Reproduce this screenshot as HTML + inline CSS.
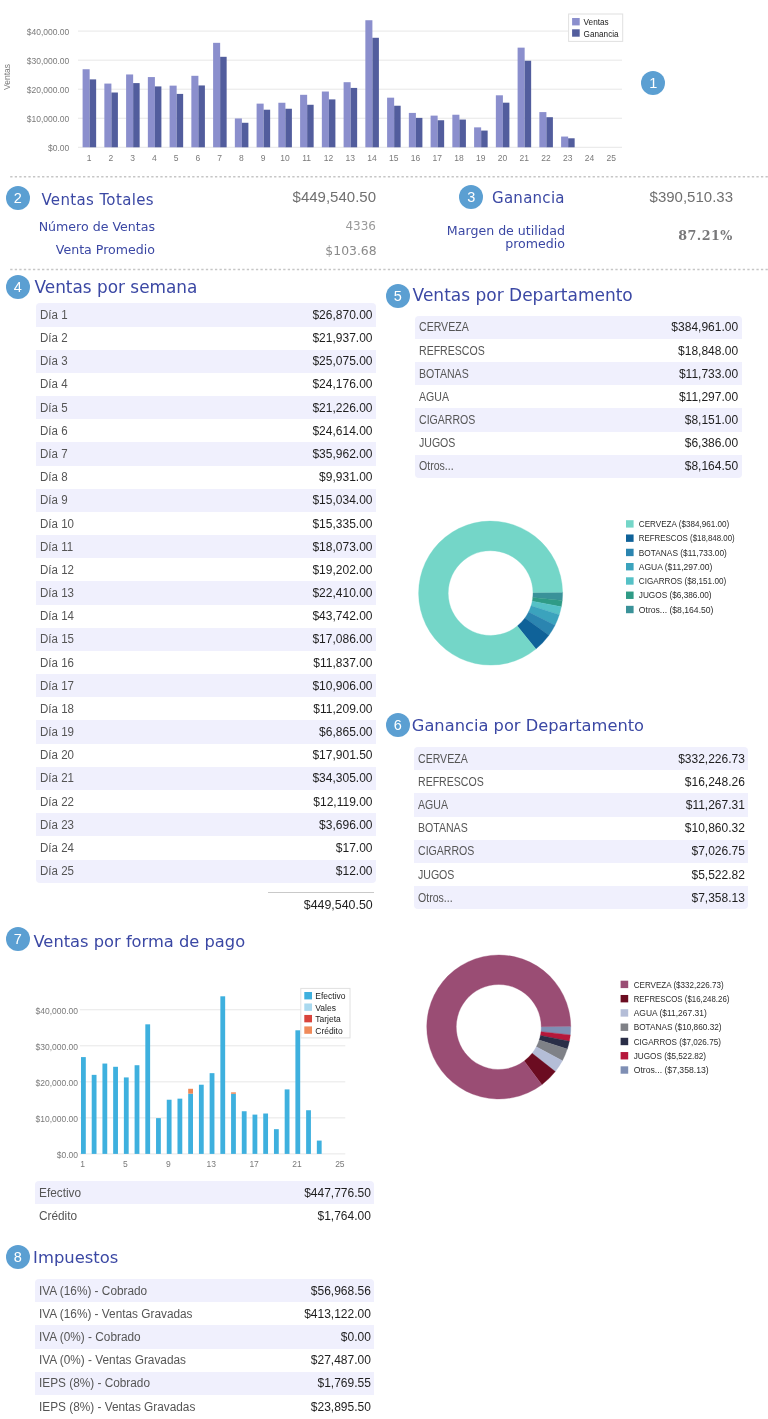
<!DOCTYPE html>
<html lang="es">
<head>
<meta charset="utf-8">
<title>Reporte de Ventas</title>
<style>
html,body{margin:0;padding:0;background:#fff;}
body{width:768px;height:1419px;position:relative;overflow:hidden;font-family:"Liberation Sans",sans-serif;color:#222;}
.abs{position:absolute;}
.num{position:absolute;width:24px;height:24px;border-radius:50%;background:#5b9fd2;color:#fff;font:14.5px/24px "Liberation Sans",sans-serif;text-align:center;}
h2{position:absolute;margin:0;font:normal 17px/24px "DejaVu Sans","Liberation Sans",sans-serif;color:#3b48a4;white-space:nowrap;letter-spacing:0;}
.sep{position:absolute;left:10px;right:0;height:0;border-top:1.4px dashed #cfcfcf;}
.lbl{position:absolute;font-family:"DejaVu Sans","Liberation Sans",sans-serif;color:#3b48a4;white-space:nowrap;text-align:right;}
.val{position:absolute;white-space:nowrap;text-align:right;}
table.t{position:absolute;border-collapse:separate;border-spacing:0;font:12px "Liberation Sans",sans-serif;table-layout:fixed;}
table.t td{height:23.18px;padding:0;vertical-align:middle;line-height:14px;}
table.t td:first-child{padding-left:4.4px;color:#555;}
table.t td:first-child span{display:inline-block;white-space:nowrap;transform-origin:0 50%;transform:scaleX(.96);}
table.t td:last-child{padding-right:3.6px;text-align:right;color:#1e1e1e;}
table.t tr:first-child td:first-child{border-top-left-radius:4px;}
table.t tr:first-child td:last-child{border-top-right-radius:4px;}
table.t tr:last-child td:first-child{border-bottom-left-radius:4px;}
table.t tr:last-child td:last-child{border-bottom-right-radius:4px;}
table.t tr.o td{background:#f0f0fd;}
table.up td:first-child span{transform:scaleX(.88);}
table.mx td:first-child span{transform:scaleX(.985);}
table.mx td:first-child{padding-left:3.9px;}
svg{position:absolute;left:0;top:0;overflow:visible;}
svg text{font-family:"Liberation Sans",sans-serif;}
</style>
</head>
<body>

<svg width="768" height="172" viewBox="0 0 768 172">
<line x1="78" x2="622" y1="147.30" y2="147.30" stroke="#e7e7e7" stroke-width="1"/>
<text x="69.3" y="150.90" font-size="8.5" fill="#7a7a7a" text-anchor="end">$0.00</text>
<line x1="78" x2="622" y1="118.25" y2="118.25" stroke="#e7e7e7" stroke-width="1"/>
<text x="69.3" y="121.85" font-size="8.5" fill="#7a7a7a" text-anchor="end">$10,000.00</text>
<line x1="78" x2="622" y1="89.20" y2="89.20" stroke="#e7e7e7" stroke-width="1"/>
<text x="69.3" y="92.80" font-size="8.5" fill="#7a7a7a" text-anchor="end">$20,000.00</text>
<line x1="78" x2="622" y1="60.15" y2="60.15" stroke="#e7e7e7" stroke-width="1"/>
<text x="69.3" y="63.75" font-size="8.5" fill="#7a7a7a" text-anchor="end">$30,000.00</text>
<line x1="78" x2="622" y1="31.10" y2="31.10" stroke="#e7e7e7" stroke-width="1"/>
<text x="69.3" y="34.70" font-size="8.5" fill="#7a7a7a" text-anchor="end">$40,000.00</text>
<text transform="translate(9.6,77) rotate(-90)" font-size="8.5" fill="#7a7a7a" text-anchor="middle">Ventas</text>
<rect x="82.60" y="69.24" width="7.05" height="78.06" fill="#8b8fcd"/>
<rect x="89.65" y="79.38" width="6.5" height="67.92" fill="#525d9d"/>
<text x="89.15" y="161.3" font-size="8.5" fill="#7a7a7a" text-anchor="middle">1</text>
<rect x="104.35" y="83.57" width="7.05" height="63.73" fill="#8b8fcd"/>
<rect x="111.40" y="92.51" width="6.5" height="54.79" fill="#525d9d"/>
<text x="110.90" y="161.3" font-size="8.5" fill="#7a7a7a" text-anchor="middle">2</text>
<rect x="126.10" y="74.46" width="7.05" height="72.84" fill="#8b8fcd"/>
<rect x="133.15" y="83.10" width="6.5" height="64.20" fill="#525d9d"/>
<text x="132.65" y="161.3" font-size="8.5" fill="#7a7a7a" text-anchor="middle">3</text>
<rect x="147.85" y="77.07" width="7.05" height="70.23" fill="#8b8fcd"/>
<rect x="154.90" y="86.41" width="6.5" height="60.89" fill="#525d9d"/>
<text x="154.40" y="161.3" font-size="8.5" fill="#7a7a7a" text-anchor="middle">4</text>
<rect x="169.60" y="85.64" width="7.05" height="61.66" fill="#8b8fcd"/>
<rect x="176.65" y="93.91" width="6.5" height="53.39" fill="#525d9d"/>
<text x="176.15" y="161.3" font-size="8.5" fill="#7a7a7a" text-anchor="middle">5</text>
<rect x="191.35" y="75.80" width="7.05" height="71.50" fill="#8b8fcd"/>
<rect x="198.40" y="85.45" width="6.5" height="61.85" fill="#525d9d"/>
<text x="197.90" y="161.3" font-size="8.5" fill="#7a7a7a" text-anchor="middle">6</text>
<rect x="213.10" y="42.83" width="7.05" height="104.47" fill="#8b8fcd"/>
<rect x="220.15" y="56.81" width="6.5" height="90.49" fill="#525d9d"/>
<text x="219.65" y="161.3" font-size="8.5" fill="#7a7a7a" text-anchor="middle">7</text>
<rect x="234.85" y="118.45" width="7.05" height="28.85" fill="#8b8fcd"/>
<rect x="241.90" y="122.78" width="6.5" height="24.52" fill="#525d9d"/>
<text x="241.40" y="161.3" font-size="8.5" fill="#7a7a7a" text-anchor="middle">8</text>
<rect x="256.60" y="103.63" width="7.05" height="43.67" fill="#8b8fcd"/>
<rect x="263.65" y="109.71" width="6.5" height="37.59" fill="#525d9d"/>
<text x="263.15" y="161.3" font-size="8.5" fill="#7a7a7a" text-anchor="middle">9</text>
<rect x="278.35" y="102.75" width="7.05" height="44.55" fill="#8b8fcd"/>
<rect x="285.40" y="108.75" width="6.5" height="38.55" fill="#525d9d"/>
<text x="284.90" y="161.3" font-size="8.5" fill="#7a7a7a" text-anchor="middle">10</text>
<rect x="300.10" y="94.80" width="7.05" height="52.50" fill="#8b8fcd"/>
<rect x="307.15" y="104.77" width="6.5" height="42.53" fill="#525d9d"/>
<text x="306.65" y="161.3" font-size="8.5" fill="#7a7a7a" text-anchor="middle">11</text>
<rect x="321.85" y="91.52" width="7.05" height="55.78" fill="#8b8fcd"/>
<rect x="328.90" y="99.40" width="6.5" height="47.90" fill="#525d9d"/>
<text x="328.40" y="161.3" font-size="8.5" fill="#7a7a7a" text-anchor="middle">12</text>
<rect x="343.60" y="82.20" width="7.05" height="65.10" fill="#8b8fcd"/>
<rect x="350.65" y="87.92" width="6.5" height="59.38" fill="#525d9d"/>
<text x="350.15" y="161.3" font-size="8.5" fill="#7a7a7a" text-anchor="middle">13</text>
<rect x="365.35" y="20.23" width="7.05" height="127.07" fill="#8b8fcd"/>
<rect x="372.40" y="37.78" width="6.5" height="109.52" fill="#525d9d"/>
<text x="371.90" y="161.3" font-size="8.5" fill="#7a7a7a" text-anchor="middle">14</text>
<rect x="387.10" y="97.67" width="7.05" height="49.63" fill="#8b8fcd"/>
<rect x="394.15" y="105.73" width="6.5" height="41.57" fill="#525d9d"/>
<text x="393.65" y="161.3" font-size="8.5" fill="#7a7a7a" text-anchor="middle">15</text>
<rect x="408.85" y="112.91" width="7.05" height="34.39" fill="#8b8fcd"/>
<rect x="415.90" y="117.90" width="6.5" height="29.40" fill="#525d9d"/>
<text x="415.40" y="161.3" font-size="8.5" fill="#7a7a7a" text-anchor="middle">16</text>
<rect x="430.60" y="115.62" width="7.05" height="31.68" fill="#8b8fcd"/>
<rect x="437.65" y="120.25" width="6.5" height="27.05" fill="#525d9d"/>
<text x="437.15" y="161.3" font-size="8.5" fill="#7a7a7a" text-anchor="middle">17</text>
<rect x="452.35" y="114.74" width="7.05" height="32.56" fill="#8b8fcd"/>
<rect x="459.40" y="119.56" width="6.5" height="27.74" fill="#525d9d"/>
<text x="458.90" y="161.3" font-size="8.5" fill="#7a7a7a" text-anchor="middle">18</text>
<rect x="474.10" y="127.36" width="7.05" height="19.94" fill="#8b8fcd"/>
<rect x="481.15" y="130.57" width="6.5" height="16.73" fill="#525d9d"/>
<text x="480.65" y="161.3" font-size="8.5" fill="#7a7a7a" text-anchor="middle">19</text>
<rect x="495.85" y="95.30" width="7.05" height="52.00" fill="#8b8fcd"/>
<rect x="502.90" y="102.68" width="6.5" height="44.62" fill="#525d9d"/>
<text x="502.40" y="161.3" font-size="8.5" fill="#7a7a7a" text-anchor="middle">20</text>
<rect x="517.60" y="47.64" width="7.05" height="99.66" fill="#8b8fcd"/>
<rect x="524.65" y="60.73" width="6.5" height="86.57" fill="#525d9d"/>
<text x="524.15" y="161.3" font-size="8.5" fill="#7a7a7a" text-anchor="middle">21</text>
<rect x="539.35" y="112.09" width="7.05" height="35.21" fill="#8b8fcd"/>
<rect x="546.40" y="117.20" width="6.5" height="30.10" fill="#525d9d"/>
<text x="545.90" y="161.3" font-size="8.5" fill="#7a7a7a" text-anchor="middle">22</text>
<rect x="561.10" y="136.56" width="7.05" height="10.74" fill="#8b8fcd"/>
<rect x="568.15" y="138.29" width="6.5" height="9.01" fill="#525d9d"/>
<text x="567.65" y="161.3" font-size="8.5" fill="#7a7a7a" text-anchor="middle">23</text>
<text x="589.40" y="161.3" font-size="8.5" fill="#7a7a7a" text-anchor="middle">24</text>
<text x="611.15" y="161.3" font-size="8.5" fill="#7a7a7a" text-anchor="middle">25</text>
<rect x="568.6" y="14" width="54.1" height="27.4" fill="#fff" stroke="#e0e0e0" stroke-width="1"/>
<rect x="572.1" y="18" width="7.6" height="7.4" fill="#8b8fcd"/>
<rect x="572.1" y="29.3" width="7.6" height="7.4" fill="#525d9d"/>
<text x="583.6" y="25.4" font-size="8.2" fill="#1a1a1a">Ventas</text>
<text x="583.6" y="36.8" font-size="8.2" fill="#1a1a1a">Ganancia</text>
</svg>
<div class="num" style="left:641.3px;top:70.6px;">1</div>
<svg width="768" height="280" viewBox="0 0 768 280"><line x1="10.2" x2="768" y1="176.8" y2="176.8" stroke="#c6c6c6" stroke-width="1.5" stroke-dasharray="2.3 2.25"/><line x1="10.2" x2="768" y1="269.6" y2="269.6" stroke="#c6c6c6" stroke-width="1.5" stroke-dasharray="2.3 2.25"/></svg>
<div class="num" style="left:5.9px;top:186.1px;">2</div>
<div class="lbl" style="right:614px;top:190.8px;font-size:15px;letter-spacing:.36px;line-height:18px;">Ventas Totales</div>
<div class="lbl" style="right:613px;top:219px;font-size:12.6px;line-height:16px;">Número de Ventas</div>
<div class="lbl" style="right:613px;top:242px;font-size:12.6px;line-height:16px;">Venta Promedio</div>
<div class="val" style="right:392px;top:188.1px;font:15px/18px 'Liberation Sans',sans-serif;color:#707070;">$449,540.50</div>
<div class="val" style="right:392px;top:218px;font:12px/16px 'DejaVu Sans',sans-serif;color:#9a9a9a;">4336</div>
<div class="val" style="right:391.4px;top:242.9px;font:12.4px/16px 'DejaVu Sans',sans-serif;color:#8a8a8a;">$103.68</div>
<div class="num" style="left:459.4px;top:184.5px;">3</div>
<div class="lbl" style="left:492px;top:188.7px;font-size:15px;letter-spacing:.27px;line-height:18px;text-align:left;">Ganancia</div>
<div class="val" style="right:35px;top:188.0px;font:15px/18px 'Liberation Sans',sans-serif;color:#707070;">$390,510.33</div>
<div class="lbl" style="right:203px;top:223.6px;font-size:12.6px;line-height:13.6px;">Margen de utilidad<br>promedio</div>
<div class="val" style="right:35.3px;top:227.2px;font:bold 12.7px/18px 'DejaVu Serif','Liberation Serif',serif;letter-spacing:.45px;color:#777779;">87.21%</div>
<div class="num" style="left:5.9px;top:275.4px;">4</div>
<h2 style="left:34.5px;top:274.9px;font-size:16.9px;">Ventas por semana</h2>
<table class="t " style="left:36.10px;top:303.40px;width:340.00px;">
<tr class="o"><td><span>Día 1</span></td><td style="width:110px">$26,870.00</td></tr>
<tr><td><span>Día 2</span></td><td style="width:110px">$21,937.00</td></tr>
<tr class="o"><td><span>Día 3</span></td><td style="width:110px">$25,075.00</td></tr>
<tr><td><span>Día 4</span></td><td style="width:110px">$24,176.00</td></tr>
<tr class="o"><td><span>Día 5</span></td><td style="width:110px">$21,226.00</td></tr>
<tr><td><span>Día 6</span></td><td style="width:110px">$24,614.00</td></tr>
<tr class="o"><td><span>Día 7</span></td><td style="width:110px">$35,962.00</td></tr>
<tr><td><span>Día 8</span></td><td style="width:110px">$9,931.00</td></tr>
<tr class="o"><td><span>Día 9</span></td><td style="width:110px">$15,034.00</td></tr>
<tr><td><span>Día 10</span></td><td style="width:110px">$15,335.00</td></tr>
<tr class="o"><td><span>Día 11</span></td><td style="width:110px">$18,073.00</td></tr>
<tr><td><span>Día 12</span></td><td style="width:110px">$19,202.00</td></tr>
<tr class="o"><td><span>Día 13</span></td><td style="width:110px">$22,410.00</td></tr>
<tr><td><span>Día 14</span></td><td style="width:110px">$43,742.00</td></tr>
<tr class="o"><td><span>Día 15</span></td><td style="width:110px">$17,086.00</td></tr>
<tr><td><span>Día 16</span></td><td style="width:110px">$11,837.00</td></tr>
<tr class="o"><td><span>Día 17</span></td><td style="width:110px">$10,906.00</td></tr>
<tr><td><span>Día 18</span></td><td style="width:110px">$11,209.00</td></tr>
<tr class="o"><td><span>Día 19</span></td><td style="width:110px">$6,865.00</td></tr>
<tr><td><span>Día 20</span></td><td style="width:110px">$17,901.50</td></tr>
<tr class="o"><td><span>Día 21</span></td><td style="width:110px">$34,305.00</td></tr>
<tr><td><span>Día 22</span></td><td style="width:110px">$12,119.00</td></tr>
<tr class="o"><td><span>Día 23</span></td><td style="width:110px">$3,696.00</td></tr>
<tr><td><span>Día 24</span></td><td style="width:110px">$17.00</td></tr>
<tr class="o"><td><span>Día 25</span></td><td style="width:110px">$12.00</td></tr>
</table>
<div class="abs" style="left:268px;top:891.5px;width:105.5px;border-top:1px solid #c9c9c9;"></div>
<div class="val" style="right:395.3px;top:897.3px;font:12.4px/16px 'Liberation Sans',sans-serif;color:#1e1e1e;">$449,540.50</div>
<div class="num" style="left:385.9px;top:283.6px;">5</div>
<h2 style="left:412.6px;top:282.9px;font-size:17px;">Ventas por Departamento</h2>
<table class="t up" style="left:414.90px;top:315.80px;width:326.80px;">
<tr class="o"><td><span>CERVEZA</span></td><td style="width:110px">$384,961.00</td></tr>
<tr><td><span>REFRESCOS</span></td><td style="width:110px">$18,848.00</td></tr>
<tr class="o"><td><span>BOTANAS</span></td><td style="width:110px">$11,733.00</td></tr>
<tr><td><span>AGUA</span></td><td style="width:110px">$11,297.00</td></tr>
<tr class="o"><td><span>CIGARROS</span></td><td style="width:110px">$8,151.00</td></tr>
<tr><td><span>JUGOS</span></td><td style="width:110px">$6,386.00</td></tr>
<tr class="o"><td><span>Otros...</span></td><td style="width:110px">$8,164.50</td></tr>
</table>
<div class="num" style="left:385.9px;top:713.3px;">6</div>
<h2 style="left:411.8px;top:714.4px;font-size:16.27px;">Ganancia por Departamento</h2>
<table class="t up" style="left:414.10px;top:747.10px;width:334.40px;">
<tr class="o"><td><span>CERVEZA</span></td><td style="width:110px">$332,226.73</td></tr>
<tr><td><span>REFRESCOS</span></td><td style="width:110px">$16,248.26</td></tr>
<tr class="o"><td><span>AGUA</span></td><td style="width:110px">$11,267.31</td></tr>
<tr><td><span>BOTANAS</span></td><td style="width:110px">$10,860.32</td></tr>
<tr class="o"><td><span>CIGARROS</span></td><td style="width:110px">$7,026.75</td></tr>
<tr><td><span>JUGOS</span></td><td style="width:110px">$5,522.82</td></tr>
<tr class="o"><td><span>Otros...</span></td><td style="width:110px">$7,358.13</td></tr>
</table>
<svg width="768" height="1419" viewBox="0 0 768 1419" style="pointer-events:none">
<path d="M562.59 592.22A72.00 72.00 0 0 1 562.23 600.42L532.78 597.41A42.40 42.40 0 0 0 533.00 592.58Z" fill="#3a9299" stroke="#3a9299" stroke-width="0.35"/>
<path d="M562.23 600.42A72.00 72.00 0 0 1 561.29 606.78L532.23 601.16A42.40 42.40 0 0 0 532.78 597.41Z" fill="#2f9b86" stroke="#2f9b86" stroke-width="0.35"/>
<path d="M561.29 606.78A72.00 72.00 0 0 1 559.28 614.73L531.04 605.84A42.40 42.40 0 0 0 532.23 601.16Z" fill="#55c1c6" stroke="#55c1c6" stroke-width="0.35"/>
<path d="M559.28 614.73A72.00 72.00 0 0 1 555.02 625.26L528.54 612.04A42.40 42.40 0 0 0 531.04 605.84Z" fill="#3ba3bd" stroke="#3ba3bd" stroke-width="0.35"/>
<path d="M555.02 625.26A72.00 72.00 0 0 1 548.91 635.34L524.94 617.98A42.40 42.40 0 0 0 528.54 612.04Z" fill="#2b85b0" stroke="#2b85b0" stroke-width="0.35"/>
<path d="M548.91 635.34A72.00 72.00 0 0 1 535.90 649.07L517.27 626.06A42.40 42.40 0 0 0 524.94 617.98Z" fill="#0f6299" stroke="#0f6299" stroke-width="0.35"/>
<path d="M535.90 649.07A72.00 72.00 0 1 1 562.59 592.22L533.00 592.58A42.40 42.40 0 1 0 517.27 626.06Z" fill="#74d6c8" stroke="#74d6c8" stroke-width="0.35"/>
<rect x="626.0" y="520.20" width="7.6" height="7.4" fill="#74d6c8"/>
<text x="638.8" y="527.10" font-size="8.8" fill="#2b2b2b" textLength="90.5" lengthAdjust="spacingAndGlyphs">CERVEZA ($384,961.00)</text>
<rect x="626.0" y="534.47" width="7.6" height="7.4" fill="#0f6299"/>
<text x="638.8" y="541.37" font-size="8.8" fill="#2b2b2b" textLength="95.9" lengthAdjust="spacingAndGlyphs">REFRESCOS ($18,848.00)</text>
<rect x="626.0" y="548.74" width="7.6" height="7.4" fill="#2b85b0"/>
<text x="638.8" y="555.64" font-size="8.8" fill="#2b2b2b" textLength="88.1" lengthAdjust="spacingAndGlyphs">BOTANAS ($11,733.00)</text>
<rect x="626.0" y="563.01" width="7.6" height="7.4" fill="#3ba3bd"/>
<text x="638.8" y="569.91" font-size="8.8" fill="#2b2b2b" textLength="73.5" lengthAdjust="spacingAndGlyphs">AGUA ($11,297.00)</text>
<rect x="626.0" y="577.28" width="7.6" height="7.4" fill="#55c1c6"/>
<text x="638.8" y="584.18" font-size="8.8" fill="#2b2b2b" textLength="87.4" lengthAdjust="spacingAndGlyphs">CIGARROS ($8,151.00)</text>
<rect x="626.0" y="591.55" width="7.6" height="7.4" fill="#2f9b86"/>
<text x="638.8" y="598.45" font-size="8.8" fill="#2b2b2b" textLength="72.8" lengthAdjust="spacingAndGlyphs">JUGOS ($6,386.00)</text>
<rect x="626.0" y="605.82" width="7.6" height="7.4" fill="#3a9299"/>
<text x="638.8" y="612.72" font-size="8.8" fill="#2b2b2b" textLength="74.7" lengthAdjust="spacingAndGlyphs">Otros... ($8,164.50)</text>
<path d="M570.75 1026.37A72.00 72.00 0 0 1 570.32 1034.88L540.99 1031.65A42.50 42.50 0 0 0 541.25 1026.63Z" fill="#7f8fb4" stroke="#7f8fb4" stroke-width="0.35"/>
<path d="M570.32 1034.88A72.00 72.00 0 0 1 569.34 1041.20L540.42 1035.38A42.50 42.50 0 0 0 540.99 1031.65Z" fill="#b5173b" stroke="#b5173b" stroke-width="0.35"/>
<path d="M569.34 1041.20A72.00 72.00 0 0 1 567.28 1049.07L539.20 1040.03A42.50 42.50 0 0 0 540.42 1035.38Z" fill="#2a2e47" stroke="#2a2e47" stroke-width="0.35"/>
<path d="M567.28 1049.07A72.00 72.00 0 0 1 562.40 1060.65L536.32 1046.86A42.50 42.50 0 0 0 539.20 1040.03Z" fill="#7f8187" stroke="#7f8187" stroke-width="0.35"/>
<path d="M562.40 1060.65A72.00 72.00 0 0 1 555.29 1071.58L532.13 1053.31A42.50 42.50 0 0 0 536.32 1046.86Z" fill="#b4bdd7" stroke="#b4bdd7" stroke-width="0.35"/>
<path d="M555.29 1071.58A72.00 72.00 0 0 1 541.85 1084.68L524.19 1061.04A42.50 42.50 0 0 0 532.13 1053.31Z" fill="#6b0c21" stroke="#6b0c21" stroke-width="0.35"/>
<path d="M541.85 1084.68A72.00 72.00 0 1 1 570.75 1026.37L541.25 1026.63A42.50 42.50 0 1 0 524.19 1061.04Z" fill="#9a4d74" stroke="#9a4d74" stroke-width="0.35"/>
<rect x="620.6" y="980.70" width="7.6" height="7.4" fill="#9a4d74"/>
<text x="633.7" y="987.60" font-size="8.8" fill="#2b2b2b" textLength="89.9" lengthAdjust="spacingAndGlyphs">CERVEZA ($332,226.73)</text>
<rect x="620.6" y="994.97" width="7.6" height="7.4" fill="#6b0c21"/>
<text x="633.7" y="1001.87" font-size="8.8" fill="#2b2b2b" textLength="95.7" lengthAdjust="spacingAndGlyphs">REFRESCOS ($16,248.26)</text>
<rect x="620.6" y="1009.24" width="7.6" height="7.4" fill="#b4bdd7"/>
<text x="633.7" y="1016.14" font-size="8.8" fill="#2b2b2b" textLength="73.0" lengthAdjust="spacingAndGlyphs">AGUA ($11,267.31)</text>
<rect x="620.6" y="1023.51" width="7.6" height="7.4" fill="#7f8187"/>
<text x="633.7" y="1030.41" font-size="8.8" fill="#2b2b2b" textLength="87.9" lengthAdjust="spacingAndGlyphs">BOTANAS ($10,860.32)</text>
<rect x="620.6" y="1037.78" width="7.6" height="7.4" fill="#2a2e47"/>
<text x="633.7" y="1044.68" font-size="8.8" fill="#2b2b2b" textLength="87.2" lengthAdjust="spacingAndGlyphs">CIGARROS ($7,026.75)</text>
<rect x="620.6" y="1052.05" width="7.6" height="7.4" fill="#b5173b"/>
<text x="633.7" y="1058.95" font-size="8.8" fill="#2b2b2b" textLength="72.4" lengthAdjust="spacingAndGlyphs">JUGOS ($5,522.82)</text>
<rect x="620.6" y="1066.32" width="7.6" height="7.4" fill="#7f8fb4"/>
<text x="633.7" y="1073.22" font-size="8.8" fill="#2b2b2b" textLength="75.0" lengthAdjust="spacingAndGlyphs">Otros... ($7,358.13)</text>
</svg>
<div class="num" style="left:5.9px;top:927.1px;">7</div>
<h2 style="left:33.5px;top:929.5px;font-size:16.3px;">Ventas por forma de pago</h2>
<svg width="768" height="1419" viewBox="0 0 768 1419">
<line x1="79.8" x2="345.3" y1="1153.90" y2="1153.90" stroke="#e7e7e7" stroke-width="1"/>
<text x="78" y="1157.70" font-size="8.5" fill="#7a7a7a" text-anchor="end">$0.00</text>
<line x1="79.8" x2="345.3" y1="1117.87" y2="1117.87" stroke="#e7e7e7" stroke-width="1"/>
<text x="78" y="1121.67" font-size="8.5" fill="#7a7a7a" text-anchor="end">$10,000.00</text>
<line x1="79.8" x2="345.3" y1="1081.84" y2="1081.84" stroke="#e7e7e7" stroke-width="1"/>
<text x="78" y="1085.64" font-size="8.5" fill="#7a7a7a" text-anchor="end">$20,000.00</text>
<line x1="79.8" x2="345.3" y1="1045.81" y2="1045.81" stroke="#e7e7e7" stroke-width="1"/>
<text x="78" y="1049.61" font-size="8.5" fill="#7a7a7a" text-anchor="end">$30,000.00</text>
<line x1="79.8" x2="345.3" y1="1009.78" y2="1009.78" stroke="#e7e7e7" stroke-width="1"/>
<text x="78" y="1013.58" font-size="8.5" fill="#7a7a7a" text-anchor="end">$40,000.00</text>
<rect x="81.00" y="1057.09" width="4.8" height="96.81" fill="#3eb0de"/>
<text x="82.60" y="1167" font-size="8.5" fill="#7a7a7a" text-anchor="middle">1</text>
<rect x="91.72" y="1074.86" width="4.8" height="79.04" fill="#3eb0de"/>
<rect x="102.44" y="1063.55" width="4.8" height="90.35" fill="#3eb0de"/>
<rect x="113.16" y="1066.79" width="4.8" height="87.11" fill="#3eb0de"/>
<rect x="123.88" y="1077.42" width="4.8" height="76.48" fill="#3eb0de"/>
<text x="125.48" y="1167" font-size="8.5" fill="#7a7a7a" text-anchor="middle">5</text>
<rect x="134.60" y="1065.22" width="4.8" height="88.68" fill="#3eb0de"/>
<rect x="145.32" y="1024.33" width="4.8" height="129.57" fill="#3eb0de"/>
<rect x="156.04" y="1118.12" width="4.8" height="35.78" fill="#3eb0de"/>
<rect x="166.76" y="1099.73" width="4.8" height="54.17" fill="#3eb0de"/>
<text x="168.36" y="1167" font-size="8.5" fill="#7a7a7a" text-anchor="middle">9</text>
<rect x="177.48" y="1098.65" width="4.8" height="55.25" fill="#3eb0de"/>
<rect x="188.20" y="1093.68" width="4.8" height="60.22" fill="#3eb0de"/>
<rect x="188.20" y="1088.78" width="4.8" height="4.90" fill="#ee8856"/>
<rect x="198.92" y="1084.72" width="4.8" height="69.18" fill="#3eb0de"/>
<rect x="209.64" y="1073.16" width="4.8" height="80.74" fill="#3eb0de"/>
<text x="211.24" y="1167" font-size="8.5" fill="#7a7a7a" text-anchor="middle">13</text>
<rect x="220.36" y="996.30" width="4.8" height="157.60" fill="#3eb0de"/>
<rect x="231.08" y="1093.79" width="4.8" height="60.11" fill="#3eb0de"/>
<rect x="231.08" y="1092.34" width="4.8" height="1.46" fill="#ee8856"/>
<rect x="241.80" y="1111.25" width="4.8" height="42.65" fill="#3eb0de"/>
<rect x="252.52" y="1114.61" width="4.8" height="39.29" fill="#3eb0de"/>
<text x="254.12" y="1167" font-size="8.5" fill="#7a7a7a" text-anchor="middle">17</text>
<rect x="263.24" y="1113.51" width="4.8" height="40.39" fill="#3eb0de"/>
<rect x="273.96" y="1129.17" width="4.8" height="24.73" fill="#3eb0de"/>
<rect x="284.68" y="1089.40" width="4.8" height="64.50" fill="#3eb0de"/>
<rect x="295.40" y="1030.30" width="4.8" height="123.60" fill="#3eb0de"/>
<text x="297.00" y="1167" font-size="8.5" fill="#7a7a7a" text-anchor="middle">21</text>
<rect x="306.12" y="1110.24" width="4.8" height="43.66" fill="#3eb0de"/>
<rect x="316.84" y="1140.58" width="4.8" height="13.32" fill="#3eb0de"/>
<text x="339.88" y="1167" font-size="8.5" fill="#7a7a7a" text-anchor="middle">25</text>
<rect x="300.8" y="988.4" width="49.2" height="49.5" fill="#fff" stroke="#e0e0e0" stroke-width="1"/>
<rect x="304.3" y="992.00" width="7.7" height="7.4" fill="#3eb0de"/>
<text x="315.3" y="999.40" font-size="8.5" fill="#1a1a1a">Efectivo</text>
<rect x="304.3" y="1003.47" width="7.7" height="7.4" fill="#a9d9ef"/>
<text x="315.3" y="1010.87" font-size="8.5" fill="#1a1a1a">Vales</text>
<rect x="304.3" y="1014.94" width="7.7" height="7.4" fill="#d9443c"/>
<text x="315.3" y="1022.34" font-size="8.5" fill="#1a1a1a">Tarjeta</text>
<rect x="304.3" y="1026.41" width="7.7" height="7.4" fill="#f08a5a"/>
<text x="315.3" y="1033.81" font-size="8.5" fill="#1a1a1a">Crédito</text>
</svg>
<table class="t mx" style="left:34.85px;top:1181.30px;width:339.65px;">
<tr class="o"><td><span>Efectivo</span></td><td style="width:110px">$447,776.50</td></tr>
<tr><td><span>Crédito</span></td><td style="width:110px">$1,764.00</td></tr>
</table>
<div class="num" style="left:5.9px;top:1245.4px;">8</div>
<h2 style="left:33.1px;top:1246.2px;font-size:16.4px;">Impuestos</h2>
<table class="t mx" style="left:34.85px;top:1279.10px;width:339.65px;">
<tr class="o"><td><span>IVA (16%) - Cobrado</span></td><td style="width:110px">$56,968.56</td></tr>
<tr><td><span>IVA (16%) - Ventas Gravadas</span></td><td style="width:110px">$413,122.00</td></tr>
<tr class="o"><td><span>IVA (0%) - Cobrado</span></td><td style="width:110px">$0.00</td></tr>
<tr><td><span>IVA (0%) - Ventas Gravadas</span></td><td style="width:110px">$27,487.00</td></tr>
<tr class="o"><td><span>IEPS (8%) - Cobrado</span></td><td style="width:110px">$1,769.55</td></tr>
<tr><td><span>IEPS (8%) - Ventas Gravadas</span></td><td style="width:110px">$23,895.50</td></tr>
</table>
</body>
</html>
